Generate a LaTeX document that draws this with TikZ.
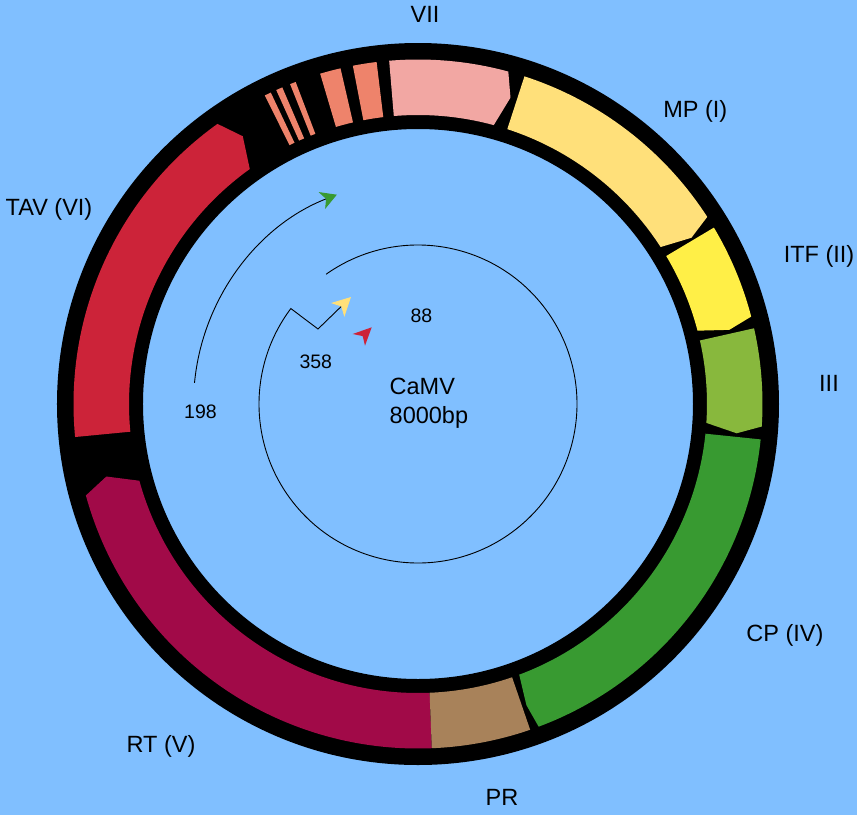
\documentclass[tikz,border=0pt]{standalone}
\usepackage{fontspec}
\setmainfont{Liberation Sans}
\usetikzlibrary{arrows.meta}
\definecolor{bg}{HTML}{80BFFF}
\definecolor{tavred}{HTML}{CC2339}
\definecolor{rtmaroon}{HTML}{A10A48}
\definecolor{prbrown}{HTML}{A8825A}
\definecolor{cpgreen}{HTML}{389A31}
\definecolor{threegreen}{HTML}{88B83D}
\definecolor{itfyellow}{HTML}{FFEF47}
\definecolor{mpyellow}{HTML}{FFE07A}
\definecolor{viipink}{HTML}{F2A7A3}
\definecolor{salmon}{HTML}{EE836B}
\newcommand{\bandflat}[3]{%
  \fill[#1] (#2:344.5pt) arc[start angle=#2, end angle=#3, radius=344.5pt] -- (#3:289pt) arc[start angle=#3, end angle=#2, radius=289pt] -- cycle;}
\newcommand{\bandpoint}[4]{%
  \fill[#1] (#2:344.5pt) arc[start angle=#2, end angle=#3, radius=344.5pt] -- (#4:320pt) -- (#3:289pt) arc[start angle=#3, end angle=#2, radius=289pt] -- cycle;}
\begin{document}
\begin{tikzpicture}[x=1pt,y=1pt,
  lbl/.style={font=\fontsize{23.5}{28}\selectfont, anchor=base, inner sep=0pt},
  num/.style={font=\fontsize{19.5}{23}\selectfont, anchor=base, inner sep=0pt},
  thinline/.style={line width=0.9pt, black}]
\fill[bg] (-418,-411) rectangle (439,404);
\useasboundingbox (-418,-411) rectangle (439,404);
% genome ring
\fill[black, even odd rule] (0,0) circle[radius=361pt] (0,0) circle[radius=275pt];
% genes
\bandpoint{tavred}{185.5}{125.6}{123.2}
\bandflat{salmon}{116.4}{115.3}
\bandflat{salmon}{114.3}{113.2}
\bandflat{salmon}{111.8}{110.8}
\bandflat{salmon}{106.5}{103}
\bandflat{salmon}{100.9}{96.9}
\bandpoint{viipink}{94.8}{74.8}{73.2}
\bandpoint{mpyellow}{72}{32.9}{31.3}
\bandpoint{itfyellow}{30.8}{14.7}{13.4}
\bandpoint{threegreen}{12.7}{-3.75}{-5.25}
\bandpoint{cpgreen}{-5.9}{-69.5}{-70.2}
\bandpoint{rtmaroon}{-87.7}{-164.6}{-166.9}
\bandflat{prbrown}{-71}{-87.7}
% transcripts
\coordinate (cstart) at (125.3:159pt);
\coordinate (zig) at (-100,75);
\coordinate (ytip) at (-67,107);
\draw[thinline, -{Stealth[length=18.5pt, width=19pt, inset=5pt, color=mpyellow]}]
  (cstart) arc[start angle=125.3, end angle=-216.9, radius=159pt] -- (zig) -- (ytip);
\coordinate (gstart) at (174.6:224.5pt);
\draw[thinline, -{Stealth[length=16pt, width=18pt, inset=4.5pt, color=cpgreen]}]
  (gstart) arc[start angle=174.6, end angle=111.2, radius=224.5pt];
\fill[tavred] (-46.3,76.7) -- (-65.3,70) -- (-55.3,67.9) -- (-53,58.3) -- cycle;
% labels
\node[lbl] (vii) at (7,382) {VII};
\node[lbl] (mp) at (277.3,286.7) {MP (I)};
\node[lbl] (itf) at (401,142) {ITF (II)};
\node[lbl] (iii) at (411,13) {III};
\node[lbl] (cp) at (367,-237) {CP (IV)};
\node[lbl] (pr) at (84,-401) {PR};
\node[lbl] (rt) at (-257,-348) {RT (V)};
\node[lbl] (tav) at (-369,189) {TAV (VI)};
\node[lbl, anchor=base west] (camv) at (-28.5,10) {CaMV};
\node[lbl, anchor=base west] (size) at (-28.5,-19) {8000bp};
\node[num] (n88) at (3.5,81.3) {88};
\node[num] (n358) at (-102.2,35.7) {358};
\node[num] (n198) at (-217.5,-14.3) {198};
\end{tikzpicture}
\end{document}
